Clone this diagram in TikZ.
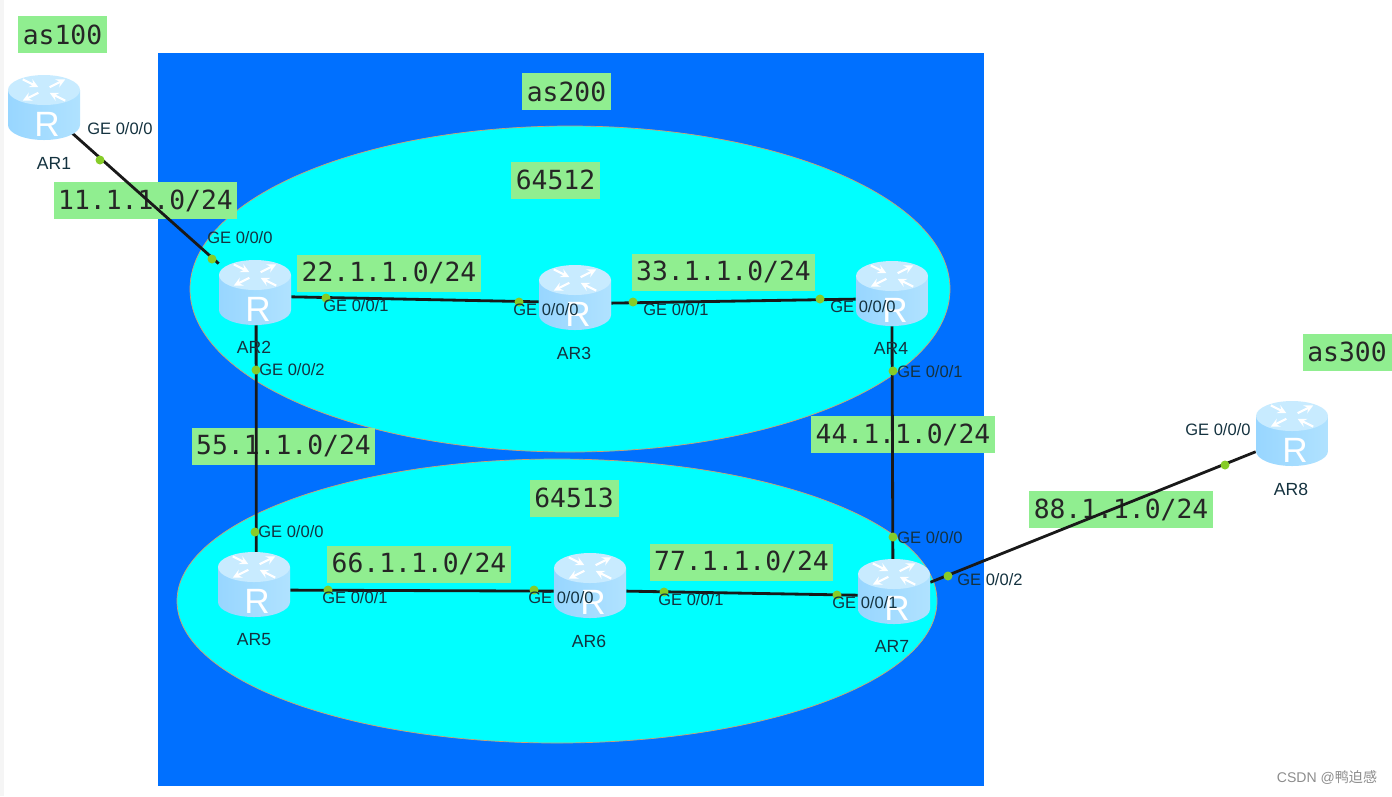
\documentclass[tikz,border=0pt]{standalone}
\usepackage{fontspec}
\setmainfont{Liberation Sans}
\setmonofont{DejaVu Sans Mono}
\newfontfamily\cjkfont{Noto Sans CJK SC}
\usepackage{tikz}
\pgfdeclarelayer{background}
\pgfdeclarelayer{links}
\pgfsetlayers{background,links,main}
\definecolor{asblue}{HTML}{0070FF}
\definecolor{areacyan}{HTML}{00FFFF}
\definecolor{areaedge}{HTML}{D0A070}
\definecolor{taggreen}{HTML}{90EE90}
\definecolor{portgreen}{HTML}{86CC28}
\definecolor{porttext}{HTML}{14323F}
\definecolor{bodyleft}{HTML}{98D6FF}
\definecolor{bodymid}{HTML}{74C8FF}
\definecolor{bodyright}{HTML}{B0E2FF}
\definecolor{lidtop}{HTML}{C8EBFF}
\tikzset{
	tagnode/.style={fill=taggreen, text=black!85, font=\ttfamily\fontsize{15}{15}\selectfont, inner sep=0pt, minimum width=3.68cm, minimum height=0.74cm},
	asnode/.style={tagnode, minimum width=1.78cm},
	routernode/.style={minimum width=1.44cm, minimum height=1.28cm, inner sep=0pt},
	namenode/.style={text=porttext, font=\fontsize{10}{10}\selectfont, inner sep=0pt},
	portnode/.style={text=porttext, font=\fontsize{9.4}{10}\selectfont, inner sep=0pt, anchor=west},
	portdot/.style={circle, fill=portgreen, inner sep=0pt, minimum size=0.18cm},
	link/.style={draw=black!90, line width=1.6pt},
}
\newcommand{\router}[3]{
	\node[routernode] (#1) at (#2,#3) {};
	\begin{scope}[shift={(#2,#3)}]
		\shade[left color=bodyleft, middle color=bodymid, right color=bodyright]
			(-36,-18) -- (-36,17) arc[start angle=180, end angle=0, x radius=36, y radius=15] -- (36,-18) -- cycle;
		\fill[lidtop] (0,-18) ellipse[x radius=36, y radius=15];
		\begin{scope}[shift={(0,-18)}]
			\foreach \ang/\tip in {45/-stealth,135/stealth-,225/-stealth,315/stealth-}{
				\draw[white, line width=1.2pt, \tip, yscale=0.5, rotate=\ang] (8,0) -- (30,0);
			}
		\end{scope}
		\node[text=white, font=\fontsize{20}{20}\selectfont, inner sep=0pt] (#1R) at (3,16) {R};
	\end{scope}
}
\begin{document}
\begin{tikzpicture}[x=0.02cm,y=-0.02cm]
	\useasboundingbox (0,0) rectangle (1392,796);
	%Nodes
	\router{ar1}{44}{108}
	\router{ar2}{255}{293}
	\router{ar3}{575}{298}
	\router{ar4}{892}{294}
	\router{ar5}{254}{585}
	\router{ar6}{590}{586}
	\router{ar7}{894}{592}
	\router{ar8}{1292}{434}
	\node[namenode]	(nameone)	at	(54,163)	{AR1};
	\node[namenode]	(nametwo)	at	(254,347)	{AR2};
	\node[namenode]	(namethree)	at	(574,353)	{AR3};
	\node[namenode]	(namefour)	at	(891,348)	{AR4};
	\node[namenode]	(namefive)	at	(254,640)	{AR5};
	\node[namenode]	(namesix)	at	(589,641)	{AR6};
	\node[namenode]	(nameseven)	at	(892,646)	{AR7};
	\node[namenode]	(nameeight)	at	(1291,489)	{AR8};
	%Ports
	\node[portdot]	(d1)	at	(100,160)	{};
	\node[portdot]	(d2)	at	(212,259)	{};
	\node[portdot]	(d3)	at	(326,298)	{};
	\node[portdot]	(d4)	at	(519,302)	{};
	\node[portdot]	(d5)	at	(633,302)	{};
	\node[portdot]	(d6)	at	(820,299)	{};
	\node[portdot]	(d7)	at	(893,371)	{};
	\node[portdot]	(d8)	at	(256,370)	{};
	\node[portdot]	(d9)	at	(255,532)	{};
	\node[portdot]	(d10)	at	(893,537)	{};
	\node[portdot]	(d11)	at	(328,590)	{};
	\node[portdot]	(d12)	at	(534,590)	{};
	\node[portdot]	(d13)	at	(664,592)	{};
	\node[portdot]	(d14)	at	(837,595)	{};
	\node[portdot]	(d15)	at	(948,576)	{};
	\node[portdot]	(d16)	at	(1225,465)	{};
	\node[portnode]	(g1)	at	(87,129)	{GE 0/0/0};
	\node[portnode]	(g2)	at	(207,238)	{GE 0/0/0};
	\node[portnode]	(g3)	at	(323,306)	{GE 0/0/1};
	\node[portnode]	(g4)	at	(513,310)	{GE 0/0/0};
	\node[portnode]	(g5)	at	(643,310)	{GE 0/0/1};
	\node[portnode]	(g6)	at	(830,307)	{GE 0/0/0};
	\node[portnode]	(g7)	at	(897,372)	{GE 0/0/1};
	\node[portnode]	(g8)	at	(259,370)	{GE 0/0/2};
	\node[portnode]	(g9)	at	(258,532)	{GE 0/0/0};
	\node[portnode]	(g10)	at	(897,538)	{GE 0/0/0};
	\node[portnode]	(g11)	at	(322,598)	{GE 0/0/1};
	\node[portnode]	(g12)	at	(528,598)	{GE 0/0/0};
	\node[portnode]	(g13)	at	(658,600)	{GE 0/0/1};
	\node[portnode]	(g14)	at	(832,603)	{GE 0/0/1};
	\node[portnode]	(g15)	at	(957,580)	{GE 0/0/2};
	\node[portnode]	(g16)	at	(1185,430)	{GE 0/0/0};
	\node[text=black!45, font=\fontsize{8}{8}\selectfont, inner sep=0pt] (mark) at (1327,778) {CSDN @{\cjkfont 鸭迫感}};

	\begin{pgfonlayer}{background}
	\fill[black!4] (0,0) rectangle (4,796);
	\fill[asblue] (158,53) rectangle (984,786);
	\draw[areaedge, fill=areacyan] (570,289) ellipse[x radius=380, y radius=163];
	\draw[areaedge, fill=areacyan] (557,601) ellipse[x radius=380, y radius=142];
	\node[asnode]	(as100)	at	(62.5,34.5)	{as100};
	\node[asnode]	(as200)	at	(566.5,91.5)	{as200};
	\node[asnode]	(as300)	at	(1347,352)	{as300};
	\node[asnode]	(area1)	at	(555.5,180)	{64512};
	\node[asnode]	(area2)	at	(574,498)	{64513};
	\node[tagnode]	(net11)	at	(145.5,200.5)	{11.1.1.0/24};
	\node[tagnode]	(net22)	at	(389,273)	{22.1.1.0/24};
	\node[tagnode]	(net33)	at	(723.5,272)	{33.1.1.0/24};
	\node[tagnode]	(net44)	at	(903,434.5)	{44.1.1.0/24};
	\node[tagnode]	(net55)	at	(283.5,446)	{55.1.1.0/24};
	\node[tagnode]	(net66)	at	(419,564)	{66.1.1.0/24};
	\node[tagnode]	(net77)	at	(741.5,562)	{77.1.1.0/24};
	\node[tagnode]	(net88)	at	(1121,509.5)	{88.1.1.0/24};
	\end{pgfonlayer}

	\begin{pgfonlayer}{links}
	%Lines
	\draw[link] (ar1.center) -- (ar2.141);
	\draw[link] (ar2.-6) -- (ar3.186);
	\draw[link] (ar3.-8) -- (ar4.188);
	\draw[link] (ar4.south) -- (ar7.92);
	\draw[link] (ar2.-88) -- (ar5.86);
	\draw[link] (ar5.-8) -- (ar6.188);
	\draw[link] (ar6.-8) -- (ar7.185);
	\draw[link] (ar7.15) -- (ar8.206);
	\end{pgfonlayer}
\end{tikzpicture}
\end{document}
